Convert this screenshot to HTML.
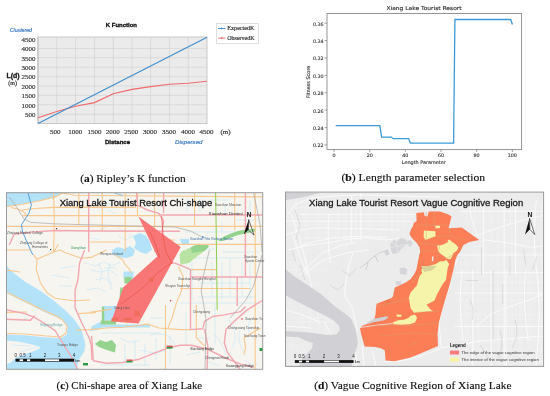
<!DOCTYPE html>
<html><head><meta charset="utf-8">
<style>
html,body{margin:0;padding:0;background:#fff;}
body{width:550px;height:396px;overflow:hidden;position:relative;}
svg{position:absolute;left:0;top:0;display:block;}
.serif{font-family:"Liberation Serif",serif;}
.sans{font-family:"Liberation Sans",sans-serif;}
.dv{font-family:"DejaVu Sans",sans-serif;}
#pa text{stroke:#333;stroke-width:0.18px;}
#pa text.blue{stroke:#3d7cc9;}
#pa text[font-weight="bold"]{stroke-width:0.3px;stroke:#111;}
#pb text{stroke:#333;stroke-width:0.12px;}
</style></head>
<body>
<svg id="main" width="550" height="396" viewBox="0 0 550 396">
<!-- ============ PANEL A ============ -->
<g id="pa">
  <text x="121.4" y="27.2" class="sans" font-size="6" font-weight="bold" text-anchor="middle" textLength="31.2" lengthAdjust="spacingAndGlyphs" fill="#111">K Function</text>
  <text x="9.8" y="31.6" class="sans blue" font-size="5" font-style="italic" textLength="22.2" lengthAdjust="spacingAndGlyphs" fill="#3d7cc9">Clustered</text>
  <rect x="38" y="37" width="169" height="86.5" fill="#ebebeb"/>
  <g stroke="#d2d2d2" stroke-width="0.7">
    <line x1="56.8" y1="37" x2="56.8" y2="123.5"/><line x1="75.6" y1="37" x2="75.6" y2="123.5"/>
    <line x1="94.5" y1="37" x2="94.5" y2="123.5"/><line x1="113.3" y1="37" x2="113.3" y2="123.5"/>
    <line x1="132" y1="37" x2="132" y2="123.5"/><line x1="150.6" y1="37" x2="150.6" y2="123.5"/>
    <line x1="169.5" y1="37" x2="169.5" y2="123.5"/><line x1="188.3" y1="37" x2="188.3" y2="123.5"/>
    <line x1="38" y1="114.3" x2="207" y2="114.3"/><line x1="38" y1="104.8" x2="207" y2="104.8"/>
    <line x1="38" y1="95.4" x2="207" y2="95.4"/><line x1="38" y1="86" x2="207" y2="86"/>
    <line x1="38" y1="76.7" x2="207" y2="76.7"/><line x1="38" y1="67.2" x2="207" y2="67.2"/>
    <line x1="38" y1="57.7" x2="207" y2="57.7"/><line x1="38" y1="48.4" x2="207" y2="48.4"/>
  </g>
  <rect x="38" y="37" width="169" height="86.5" fill="none" stroke="#bdbdbd" stroke-width="0.8"/>
  <line x1="38" y1="37" x2="38" y2="123.5" stroke="#c4c4c4" stroke-width="1.2"/>
  <polyline points="38,117.7 56.8,111.5 75.6,106.2 94.5,102.6 113.3,93.8 132,89.4 150.6,86.6 169.5,84.3 188.3,83.2 207,81.3" fill="none" stroke="#f06a6a" stroke-width="1.15"/>
  <polyline points="38,123.5 207,37.3" fill="none" stroke="#3f8fd0" stroke-width="1.15"/>
  <g class="serif" font-size="7" fill="#333" text-anchor="end">
    <text x="35.4" y="41.8">4500</text><text x="35.4" y="51.2">4000</text><text x="35.4" y="60.6">3500</text>
    <text x="35.4" y="70">3000</text><text x="35.4" y="79.4">2500</text><text x="35.4" y="88.8">2000</text>
    <text x="35.4" y="98.2">1500</text><text x="35.4" y="107.6">1000</text><text x="35.4" y="117">500</text>
  </g>
  <g class="serif" font-size="7" fill="#333" text-anchor="middle">
    <text x="55.3" y="133.8">500</text><text x="75.3" y="133.8">1000</text><text x="94.5" y="133.8">1500</text>
    <text x="112.8" y="133.8">2000</text><text x="131.2" y="133.8">2500</text><text x="150" y="133.8">3000</text>
    <text x="169" y="133.8">3500</text><text x="188" y="133.8">4000</text><text x="206.5" y="133.8">4500</text>
    <text x="225.5" y="133.8">(m)</text>
  </g>
  <text x="13.1" y="78" class="sans" font-size="7" font-weight="bold" text-anchor="middle" fill="#222">L(d)</text>
  <text x="12.6" y="85.2" class="serif" font-size="6" text-anchor="middle" fill="#333">(m)</text>
  <text x="117.5" y="144" class="sans" font-size="5.6" font-weight="bold" text-anchor="middle" textLength="25" lengthAdjust="spacingAndGlyphs" fill="#222">Distance</text>
  <text x="175" y="143.6" class="sans blue" font-size="5.6" font-style="italic" textLength="27.4" lengthAdjust="spacingAndGlyphs" fill="#3d7cc9">Dispersed</text>
  <!-- legend -->
  <rect x="216.4" y="23.3" width="42.1" height="20.3" fill="#fff" stroke="#c8c8c8" stroke-width="0.6"/>
  <line x1="218" y1="28.5" x2="225.5" y2="28.5" stroke="#3f8fd0" stroke-width="0.9"/><circle cx="221.7" cy="28.5" r="0.9" fill="#3f8fd0"/>
  <line x1="218" y1="38.2" x2="225.5" y2="38.2" stroke="#ee6a6a" stroke-width="0.9"/><circle cx="221.7" cy="38.2" r="0.9" fill="#ee6a6a"/>
  <text x="227.3" y="30.4" class="serif" font-size="5.4" textLength="27.2" lengthAdjust="spacingAndGlyphs" fill="#333">ExpectedK</text>
  <text x="227.3" y="40.1" class="serif" font-size="5.4" textLength="27.2" lengthAdjust="spacingAndGlyphs" fill="#333">ObservedK</text>
</g>

<!-- ============ PANEL B ============ -->
<g id="pb">
  <text x="424" y="10.2" class="dv" font-size="5.4" text-anchor="middle" textLength="75.2" lengthAdjust="spacingAndGlyphs" fill="#222">Xiang Lake Tourist Resort</text>
  <rect x="327" y="13.5" width="194.6" height="136.1" fill="#fff" stroke="#8a8a8a" stroke-width="0.9"/>
  <g stroke="#666" stroke-width="0.6">
    <line x1="324.5" y1="23.2" x2="327" y2="23.2"/><line x1="324.5" y1="40.6" x2="327" y2="40.6"/>
    <line x1="324.5" y1="58" x2="327" y2="58"/><line x1="324.5" y1="75.4" x2="327" y2="75.4"/>
    <line x1="324.5" y1="92.8" x2="327" y2="92.8"/><line x1="324.5" y1="110.2" x2="327" y2="110.2"/>
    <line x1="324.5" y1="127.6" x2="327" y2="127.6"/><line x1="324.5" y1="145" x2="327" y2="145"/>
    <line x1="334" y1="149.6" x2="334" y2="152"/><line x1="369.7" y1="149.6" x2="369.7" y2="152"/>
    <line x1="405.3" y1="149.6" x2="405.3" y2="152"/><line x1="441" y1="149.6" x2="441" y2="152"/>
    <line x1="476.6" y1="149.6" x2="476.6" y2="152"/><line x1="512.3" y1="149.6" x2="512.3" y2="152"/>
  </g>
  <g class="dv" font-size="4.8" fill="#333" text-anchor="end">
    <text x="323.6" y="25.6">0.36</text><text x="323.6" y="43">0.34</text><text x="323.6" y="60.4">0.32</text>
    <text x="323.6" y="77.8">0.30</text><text x="323.6" y="95.2">0.28</text><text x="323.6" y="112.6">0.26</text>
    <text x="323.6" y="130">0.24</text><text x="323.6" y="147.4">0.22</text>
  </g>
  <g class="dv" font-size="4.8" fill="#333" text-anchor="middle">
    <text x="334" y="156.8">0</text><text x="369.7" y="156.8">20</text><text x="405.3" y="156.8">40</text>
    <text x="441" y="156.8">60</text><text x="476.6" y="156.8">80</text><text x="512.3" y="156.8">100</text>
  </g>
  <text x="423.8" y="163.6" class="dv" font-size="4.8" text-anchor="middle" textLength="44" lengthAdjust="spacingAndGlyphs" fill="#333">Length Parameter</text>
  <text transform="translate(310.1,82) rotate(-90)" class="dv" font-size="4.8" text-anchor="middle" textLength="32.3" lengthAdjust="spacingAndGlyphs" fill="#333">Fitness Score</text>
  <polyline points="335.7,125.7 379.9,125.7 381.6,137.1 391.4,137.1 393,138.6 408.6,138.6 410.5,143.2 453.6,143.2 454.9,19.5 510.7,19.5 512.4,24.5" fill="none" stroke="#3b9ad6" stroke-width="1.3" stroke-linejoin="round"/>
</g>

<!-- ============ CAPTIONS ============ -->
<g class="serif" fill="#111" font-size="10" stroke="#111" stroke-width="0.12">
  <text x="80.2" y="182.3" textLength="105.6" lengthAdjust="spacingAndGlyphs">(<tspan font-weight="bold">a</tspan>) Ripley’s K function</text>
  <text x="341.5" y="181.3" textLength="143.7" lengthAdjust="spacingAndGlyphs">(<tspan font-weight="bold">b</tspan>) Length parameter selection</text>
  <text x="56.5" y="388.7" textLength="145.7" lengthAdjust="spacingAndGlyphs">(<tspan font-weight="bold">c</tspan>) Chi-shape area of Xiang Lake</text>
  <text x="314.2" y="389.3" textLength="197.4" lengthAdjust="spacingAndGlyphs">(<tspan font-weight="bold">d</tspan>) Vague Cognitive Region of Xiang Lake</text>
</g>

<!-- ============ MAP C ============ -->
<g id="mc">
  <clipPath id="clipc"><rect x="6.5" y="192.7" width="256.2" height="176.6"/></clipPath>
  <rect x="6.5" y="192.7" width="256.2" height="176.6" fill="#f6f5f0"/>
  <g clip-path="url(#clipc)">
    <!-- water bodies -->
    <g fill="#b4e3f9">
      <path d="M6,192 L62.5,192 L62.5,193 L55.1,196.9 L38.7,201 L22.4,204.3 L6,206.7 Z"/>
      <path d="M6,264 L9.8,270 L24.9,281.4 L40.1,290.8 L53.3,300.3 L64.7,309.8 L74.2,319.2 L81.8,330.6 L85.5,345 L84,352 L78.2,360.8 L76.6,371 L6,371 L6,364 L10.7,362.8 L15.5,358.1 L23.7,354.6 L34.4,351 L40.3,348 L39.1,346.3 L29.6,343.9 L17.8,341.5 L6,340.4 L6,334.4 L24.9,335.3 L43.9,337.2 L60.9,338.2 L66.6,334.4 L67.6,326.8 L62.8,320.2 L55.2,316.4 L43.9,311.7 L30.6,305 L17.4,298.4 L6,292.7 Z"/>
            <path d="M103.5,306 L116.8,306 L111.8,320.5 L103.5,320.5 Z"/>
      <path d="M123.4,271.5 L133.5,271.5 L133.5,278.7 L123.4,278.7 Z"/><path d="M95,324.5 H150 V327.5 H95 Z"/>
      <path d="M112,250 L118,247 L124,249 L130,246 L135,250 L133,256 L126,258 L119,257 L113,255 Z"/>
      <path d="M133,236 L140,233 L146,236 L150,242 L152,250 L146,254 L140,252 L134,248 L136,243 Z"/>
      <path d="M92,326 L100,322 L104,326 L98,330 L90,331 Z"/>
    </g>
    <!-- canals -->
    <g fill="none" stroke="#c4e5f6" stroke-width="0.6">
      <path d="M84,262 L95,266 L104,262 L112,266 L120,262 M90,270 L100,272 L110,270 L118,276 M95,280 L105,278 L112,284 M86,290 L98,288 L106,292"/>
      <path d="M98,262 L102,272 L100,282 M110,262 L108,275 L112,290 M104,268 L116,268 M60,268 L75,266 M52,275 L70,278 M58,286 L72,286"/>
      <path d="M96,200 L104,206 L112,204 M108,210 L116,214 M92,238 L100,240 M128,234 L134,238 M118,228 L124,232"/>
      <path d="M185,232 H242 M186,249 H215 M222,252 H258 M186,258 H250 M192,262 V300 M200,283 H250 M198,297 H255 M212,262 V296 M222,262 V300 M230,258 V296 M242,262 V296 M250,262 V300"/>
      <path d="M180,303 H260 M186,312 V345 M215,303 V345 M228,318 Q240,335 232,348 M250,320 Q245,330 255,340 M240,330 Q236,340 244,352 M196,338 H210 M214,334 Q222,342 226,355"/>
      <path d="M100,333 H160 M120,338 Q130,345 140,340 M140,350 Q155,355 165,350 M100,365 H150 M150,335 Q170,330 175,345 M125,345 V365 M135,340 V360 M145,344 V366 M156,338 V360 M170,335 V365"/>
      <path d="M205,355 Q215,360 225,356 M245,360 Q250,366 258,364 M186,355 L200,352 M208,362 L220,366"/>
      <path d="M150,318 H165 M118,236 L126,240 L132,236 M100,230 L108,226"/>
      <path d="M200,198 V212 M210,200 H230 M225,204 V214 M236,220 H258 M222,222 V232 M250,200 V214 M187,198 V212"/>
      <path d="M20,352 L40,346 M12,345 L30,346"/>
    </g>
    <!-- green -->
    <g fill="#94d38e">
      <path d="M179.5,254.4 L180.4,264.7 L189,263 L197.6,256.1 L204.5,250.9 L208.9,246.6 L207.1,244.3 L195.9,244.9 L190.7,247.5 L185.5,250 L182.1,250.9 L180.4,253.5 Z" fill="#b9e3a3"/>
      <path d="M190.7,247.5 L195.9,244.9 L207.1,244.3 L208.9,246.6 L204.5,250.9 L198,252 L192,253 Z"/>
      <path d="M218,241 L224,236.5 L231,233.5 L238,231 L246,229.5 L255.5,228.6 L255.2,231.5 L246,233.5 L238,235 L230,238 L224,240.8 Z"/>
      <path d="M124.4,277.5 L128,276.5 L131.9,277.5 L131.5,283.4 L124.4,283.4 Z"/>
      <path d="M120.3,287.6 L122.7,287.6 L122,297.5 L119.5,297.5 Z"/>
      <path d="M101.8,306.6 L104.3,306.6 L104.3,321 L101.8,321 Z"/>
      <path d="M100.7,320.5 L116,320.5 L116,324.5 L100.7,324.5 Z"/>
      <path d="M95,344 L100,340 L106,342 L112,340 L116,345 L115,352.6 L110,351 L104,349 L99,347 Z"/>
    </g>
    <path d="M180,239 L189,238.8 L189,244 L182,244.5 Z" fill="#b4e3f9"/>
    <!-- orange roads -->
    <g fill="none" stroke="#f8c88e" stroke-width="1.1" stroke-linejoin="round">
      <path d="M6,206.7 L22.4,204.3 L38.7,201 L55.1,196.9 L62.5,193 L74.7,195.3 L263,196.9"/>
      <path d="M6,226.4 H263"/>
      <path d="M53.5,193 Q55,220 53.5,252 L58.4,244.4"/>
      <path d="M78.8,193 V225"/><path d="M102.3,193 V230"/><path d="M125.2,193 V252"/><path d="M137.5,193 V215"/><path d="M154.6,193 V252"/>
      <path d="M194.6,193 V226"/><path d="M234.7,193 V230"/><path d="M255.2,193 V370"/>
      <path d="M22.5,215.6 H160 M53.3,207.4 H136"/>
      <path d="M10.9,207.5 L18,209 L22.5,211 L27.3,215.6 M22.5,209.7 L35,208.5 L53.3,207.4"/>
      <path d="M33.8,254.9 L37.1,259.8 L36.3,269.6 L40.4,282.7 L46.9,292.6 L55.1,298.3 L73.1,300.7 L90,300"/>
      <path d="M37.1,259 L55.1,251.6 L60,250 L64.9,252.5 L81.3,258.2 L91.1,257.4 L106.4,250"/>
            <path d="M6,333.5 L24.9,334 L43.9,335.8 L60.9,337 L66,333 L67,326 L62,319.5 L55,315.5 L43.9,310.5 L30.6,304 L17.4,297.4 L6,292 M78,313.6 L96,312.6"/>
      <path d="M6,312.4 L27,312 M90,312.4 L106.4,309.9 L112,309"/>
      <path d="M114.5,254.9 L122.7,259.8 L125.2,264.7 L129.3,268.8 L130.9,272.9"/>
      <path d="M76,330 L90,329.6 L106.4,328 L122.8,327.2 L139.3,325.5 L147.5,323.9 L159,328 L180,329.6 L189.8,329.6"/>
      <path d="M190.5,269.6 H217 M180,288.5 H250"/>
      <path d="M178.3,266.4 L183.2,276.2 L181.5,290.9 L176.6,302.4 L172,318 L168,328"/>
      <path d="M165.5,305 V370"/>
      <path d="M196.3,305 V337.8 L204.6,346"/>
      <path d="M260.4,328 L244,337.8 L245.6,347.7 L244,354.3"/>
      <path d="M175,244.4 H263"/>
      <path d="M6,250 H30 M6,270 L20,272"/>
      <path d="M90,242 H120 M160,240 L175,240"/>
    </g>
    <!-- pink roads -->
    <g fill="none" stroke="#f3a7b0" stroke-width="1.4" stroke-linejoin="round">
      <path d="M9.3,245 L14.2,234 L30.5,232.1 L55.1,230.5 L96,231 L180,231.3"/>
      <path d="M136.6,193 L137.5,205.1 L147.3,210 L158.7,213.3 L163.6,220.6 L162,232.9 L162.8,252 L166,262 L175,263.1 L183.2,266.4 L190.5,269.6 V330"/>
      <path d="M163.6,193 V213"/>
      <path d="M160,215 H263"/>
      <path d="M190.5,277 H263"/>
      <path d="M245.4,193 V277"/><path d="M237.2,277 V306"/>
      <path d="M84.6,250 L79.6,263.1 L78,279.5 L75.1,290 L75.1,307.9 L81.8,323 L89.3,338.2 L91.2,345 L92,360"/>
      <path d="M88.7,193 V252"/>
      <path d="M6,309.8 L24.9,313.6 L34.4,317.3 L43.9,323 L55.2,330.6 L60.9,340 L71.7,357.5 L78,370 M6,319.2 L30.6,320.2 L34.4,315.5"/>
      <path d="M91.6,336 L93.3,360.8 L106.4,363.3 L122.8,362.5 L139.3,359.2 L155.7,352.6 L168.8,347.7 L180,345.2 L191.4,345.2 L207.8,349.3 L224.3,357.5 L240.7,364.1 L253.8,367.4"/>
      <path d="M189.8,329.6 L202.9,328.8 L204.6,321.4 L212.8,316.5 L224.3,314.9 L240.7,311.6 L245.6,306.6"/>
      <path d="M263,300 L247.2,309.9 L234.1,321.4 L225.9,329.6 L224.3,342.8 L227.5,352.6 L232.5,359.2 L240.7,370"/>
      <path d="M204.6,329 L207.8,346 L207,370"/>
    </g>
    <!-- blue canal line, rails, metro -->
    <path d="M28.1,193 L31.4,205.1 L28.9,213.3 L21.5,224.7 L22.4,231.3 L27.3,242.7 L31.4,252 L33,255" fill="none" stroke="#4c97dc" stroke-width="0.9"/>
    <path d="M114.5,193 L122.7,195.3" fill="none" stroke="#7cc0ec" stroke-width="0.9"/>
    <g fill="none" stroke="#a8a8a8" stroke-width="0.7">
      <path d="M9.3,196.9 L17.5,208.4 L24,219 L30.5,222.3 L55.1,223.9 L175,227 L191.4,231.3 L202,237"/>
      <path d="M253.6,193 L260.1,224.7 L262,252"/>
      <path d="M209.4,250 L203.6,274.5 L201.2,290.9 L203.6,304 L206.1,320 L205,370"/>
      <path d="M262,255 L253.6,286 L245.4,300.7 L230,318"/>
    </g>
    <path d="M215.6,192 L216.2,230 L217.2,310" fill="none" stroke="#8ccf4c" stroke-width="1"/>
    <!-- red polygon -->
    <path d="M138.4,216.4 L180.7,247.1 L138.5,323.6 L111.2,321.6 L123.3,287.3 L157.3,256.4 Z" fill="#f87070" fill-opacity="0.96"/>
    <g fill="none" stroke="#ec5a52" stroke-width="1" opacity="0.85">
      <path d="M161.7,216.4 L163,234.9 L165.6,250.7 L172.2,263.9"/>
      <path d="M172.8,262 L158.7,272 L150.6,280.2 L144.5,286.3 L134.4,294.3 L124.3,301.4 L120.3,304.4"/>
      <path d="M150,232 L156,246 L160,258"/>
    </g>
    <g fill="#ee6a55" opacity="0.8">
      <path d="M148.6,278 L154.6,277.2 L153,282.2 L149,282 Z"/>
      <path d="M135,310.5 L139,311 L140.5,316.6 L134.4,316 Z"/>
      <path d="M111.8,318 L118.3,317.6 L118,320.6 L111.2,320.6 Z"/>
      <path d="M123.3,318 L132.4,317.6 L132,320.6 L123.6,320.6 Z"/>
    </g>
  </g>
  <rect x="6.5" y="192.7" width="256.2" height="176.6" fill="none" stroke="#9a9a9a" stroke-width="1"/>
  <!-- title -->
  <text x="59.7" y="206.3" class="sans" font-size="9.2" fill="#151515" stroke="#151515" stroke-width="0.3" textLength="152.6" lengthAdjust="spacingAndGlyphs">Xiang Lake Tourist Resort Chi-shape</text>
  <!-- labels -->
  <g class="sans" font-size="3.2" fill="#555">
    <text x="208.6" y="214.6" textLength="34.3" lengthAdjust="spacingAndGlyphs" fill="#222">Xiaoshan District</text>
    <text x="7" y="233.5">Zhejiang Medical College</text>
    <text x="20" y="243.5">Zhejiang College of</text>
    <text x="32" y="247.5">Humanities</text>
    <text x="71" y="248.5" fill="#2c9a5a">Xiangshan</text>
    <text x="100" y="254.5">Wenyuan Island</text>
    <text x="190" y="239.5" fill="#3b6fa8">Xiaoshan Yihe Railway Station</text>
    <text x="178" y="279.5">Xiaoshan Kangde Hospital</text>
    <text x="193" y="312.5">Chengxiang</text>
    <text x="165" y="287">Shuyan Township</text>
    <text x="114" y="309">Xiang Lake</text>
    <text x="40" y="326" fill="#6aa">Shipping Bridge</text>
    <text x="57" y="346">Yuanpu Bridge</text>
    <text x="190.6" y="349.6" fill="#333">Baichang Bridge</text>
    <text x="205" y="359">Chengnan Huadi</text>
    <text x="225.9" y="366.5" fill="#333">Kouangjiang Bridge</text>
    <text x="245" y="320">Xiaoshan Yu</text>
    <text x="228" y="328.5">Chengxiang Township</text>
    <text x="244" y="337">Suichang Town</text>
    <text x="244" y="258">Xiaoshan</text>
    <text x="245" y="262">Sports Center</text>
    <text x="215" y="206">Xiaoshan Mansion</text>
  </g>
  <!-- poi -->
  <circle cx="170.6" cy="300.8" r="0.8" fill="#e03030"/><circle cx="242" cy="319" r="0.8" fill="#e03030"/>
  <rect x="56" y="228" width="1.2" height="1.2" fill="#444"/><rect x="50" y="249" width="1.2" height="1.2" fill="#444"/><rect x="202" y="236.3" width="1.6" height="1.6" fill="#4a7fc0"/>
  <!-- highway shields -->
  <g>
    <rect x="126.5" y="359.5" width="6" height="1.4" fill="#e05050"/><rect x="126.5" y="360.9" width="6" height="1.6" fill="#2e9a4a"/>
    <rect x="166.6" y="345.6" width="6" height="1.4" fill="#e05050"/><rect x="166.6" y="347" width="6" height="1.6" fill="#2e9a4a"/>
    <rect x="83" y="363" width="5" height="2.4" fill="#2e9a4a"/>
    <rect x="259.5" y="348" width="3" height="3" fill="#2e9a4a"/>
  </g>
  <!-- north arrow -->
  <text x="249" y="217" class="sans" font-size="6.3" font-weight="bold" text-anchor="middle" fill="#111">N</text>
  <path d="M248.7,219.6 L243.8,234.6 L248.3,229.8 Z" fill="#111"/>
  <path d="M248.7,219.6 L254,235.1 L248.3,229.8 Z" fill="#fff" fill-opacity="0.3" stroke="#111" stroke-width="0.6"/>
  <!-- scale bar -->
  <g class="sans" font-size="4.5" fill="#222" text-anchor="middle">
    <text x="15.7" y="356.9">0</text><text x="22.6" y="356.9">0.5</text><text x="30.3" y="356.9">1</text>
    <text x="44.9" y="356.9">2</text><text x="59.2" y="356.9">3</text><text x="73.9" y="356.9">4</text>
  </g>
  <text x="75" y="361.6" class="sans" font-size="4" fill="#222">km</text>
  <rect x="15.5" y="358.7" width="58.7" height="3" fill="#111"/>
  <rect x="19.6" y="359.3" width="3.5" height="1.8" fill="#fff"/>
  <rect x="27" y="359.3" width="3.2" height="1.8" fill="#fff"/>
  <rect x="45" y="359.3" width="14.1" height="1.8" fill="#fff"/>
</g>

<!-- ============ MAP D ============ -->
<g id="md">
  <clipPath id="clipd"><rect x="285.5" y="192.1" width="258.1" height="174.3"/></clipPath>
  <rect x="285.5" y="192.1" width="258.1" height="174.3" fill="#ececec"/>
  <g clip-path="url(#clipd)">
    <!-- roads -->
    <path d="M296 200 V240 M302 200 V240 M308 200 V240 M314 200 V240 M320 200 V240 M326 200 V245 M332 200 V245 M338 200 V245 M344 200 V245 M350 200 V245 M356 200 V245 M362 200 V245 M368 200 V245 M374 200 V245 M380 200 V245 M386 200 V245 M392 200 V245 M398 200 V245 M404 200 V245 M410 200 V245 M292 203 H410 M292 208 H410 M292 213 H410 M292 218 H410 M292 223 H410 M292 228 H410 M300 233 H385 M300 238 H385 M300 243 H385" fill="none" stroke="#f3f3f3" stroke-width="0.5"/>
    <path d="M462 200 V366 M468 200 V366 M474 200 V366 M480 200 V366 M486 200 V366 M492 200 V366 M498 200 V366 M504 200 V366 M510 200 V366 M516 200 V366 M522 200 V366 M528 200 V366 M534 200 V366 M540 200 V366 M470 205 H545 M470 211 H545 M470 217 H545 M470 223 H545 M470 229 H545 M470 235 H545 M470 241 H545 M470 247 H545 M470 253 H545 M470 259 H545 M458 265 H545 M458 271 H545 M458 277 H545 M458 283 H545 M458 289 H545 M458 295 H545 M458 301 H545 M458 307 H545 M458 313 H545 M458 319 H545 M458 325 H545 M458 331 H545 M458 337 H545 M458 343 H545 M458 349 H545 M458 355 H545 M458 361 H545" fill="none" stroke="#f2f2f2" stroke-width="0.45"/>
    <g fill="none" stroke="#f5f5f5" stroke-width="0.6">
      <path d="M286 207 H420 M286 225 H420 M300 238 H380 M286 262 H340 M286 270 H330 M286 284 H320 M286 318 H330 M286 322 H335 M286 346 H300"/>
      <path d="M296 200 V300 M306 198 V300 M318 198 V240 M338 198 V250 M346 198 V250 M356 198 V240 M370 198 V240 M382 200 V236 M392 200 V232 M404 200 V228 M412 200 V226"/>
      <path d="M302 305 V332 M310 308 V334 M318 312 V334 M326 316 V334 M292 340 V360 M304 342 V360"/>
      <path d="M460 262 H545 M460 282 H545 M455 300 H545 M450 315 H545 M445 340 H545 M448 352 H545 M470 220 H545 M465 235 H480"/>
      <path d="M466 250 V366 M478 250 V366 M498 230 V366 M512 230 V366 M520 260 V366 M530 260 V366 M542 200 V366 M490 200 V240 M475 200 V225 M466 200 V222 M510 200 V225"/>
    </g>
    <g fill="none" stroke="#fafafa" stroke-width="1" stroke-linecap="round" stroke-linejoin="round">
      <path d="M287.5,214.7 L295.1,204.6 L310.3,198.3 L335.5,195.8 L360,195 L440,197"/>
      <path d="M290,250.1 L310.3,242.5 L335.5,237.5 L360.8,236.2 L386,237.5"/>
      <path d="M305.2,272.8 L322.9,260.2 L348.1,252.6 L368.3,250.1"/>
      <path d="M292.6,234.9 L300.2,257.7 L307.7,275.3"/>
      <path d="M300 214.4 H420 M460 211.4 H545"/>
      <path d="M286 221.2 H410"/>
      <path d="M286,234.8 L300.2,230.3 L315.3,228 L330.5,228 L345.6,228.8 L365,228.8 L400,230"/>
      <path d="M288,250 L307.7,245.5 L330.5,242.4 L345.6,239.4 L365,237.9 L386,240 L400,238"/>
      <path d="M300,275 L312,262 L322.9,252.6 L340,246 L355.7,242.5"/>
      <path d="M328.9 214 Q327 240 330 262"/><path d="M351.7 196 V242"/><path d="M360.8 193 V240"/>
      <path d="M291,213.6 L294,222.7 L300,240 L306,262 L312,288"/>
      <path d="M353.2,252.6 Q346,270 344.5,295.1 L352.6,308.6 L356.6,327.6 L355.8,349.2 L356.6,367"/>
      <path d="M323.9,322 L334.1,338.9 L344.2,350.8 L354.4,355.8"/>
      <path d="M286,310 L300,314 L320,322 M286,326 L310,328"/>
      <path d="M477.7,235 L502.3,226.5 L527,219 L545,215.2"/>
      <path d="M483.4,239.8 L511.8,243.6 L530.8,247.3 L545,245.5"/>
      <path d="M483.4 200 V275 M504.2 200 V366 M515.6 200 V275 M536.4 200 Q532 240 537 275 T536 366"/>
      <path d="M455 255 H545"/>
      <path d="M455 272.7 H545 M455 293 H545 M455 326.5 H545"/>
      <path d="M462 270 Q458 300 463 340 M472.7 270 V366 M491.2 270 V366 M506.2 270 V366 M525.7 270 Q522 300 528 340"/>
      <path d="M476.2,326.5 L490.3,314.2 L508,307.1 L529.2,300 L545,293"/>
      <path d="M458.3,258.8 L453,267.7 L449.5,285.4 L444.2,303 L440.7,315.4 L438.9,322.6 L440,334 L441,348 L452,346 L480,341 L545,336"/>
      <path d="M385,362 L400,361 L420,356 L440,349"/>
      <path d="M362,346 L364,366 M372,350 L376,366"/>
      <path d="M470,200 Q468 215 478 236"/>
    </g>
    <g fill="none" stroke="#cfcfd4" stroke-width="0.6">
      <path d="M493 270 V340 M502.7 284 V303.6 M465.6 280.6 H478 M481.5 247.3 V275 M510 256.8 V275 M523.2 249.2 L526 265 M536.4 256.8 L533 270"/>
      <path d="M470 300 Q475 310 472 320 M515 320 Q520 335 512 348 M480 345 L490 360 M500 330 Q505 345 498 360"/>
      <path d="M295 210 L300 225 L296 240 M292 250 L296 262 M300 265 L305 280"/>
      <path d="M342 270 L350 276 L356 268 M330 285 L338 290 L344 284"/>
    </g>
    <!-- water -->
    <g fill="#d0d0d5">
      <path d="M286,193 L320.4,193 L302.7,197.3 L286,200 Z"/>
      <path d="M286,269.4 L294.1,276.2 L303.2,282.3 L312.3,288.3 L321.4,294.4 L333.6,305.3 L340.6,310.8 L345,313.6 L351,318.6 L356.1,330.5 L357.8,342.3 L356.1,350.8 L352.7,357.5 L351.8,367 L298.5,367 L301.9,358.4 L307,354.1 L312.1,348.2 L312.9,343.1 L305.3,340.6 L298.9,337.2 L286,336.5 L286,331 L298.9,331.7 L312.8,333.1 L326.7,335.1 L336.4,334.4 L339.9,330.3 L339.2,326.1 L333.6,320.6 L323.9,315 L312.8,309.4 L298.9,302.5 L286,295.6 Z"/>
            <g fill="#d6d6da">
      <path d="M390,244 L394,240 L398,241 L400,238 L405,239 L408,242 L405,246 L401,249 L398,253 L393,254 L391,250 Z"/>
      <path d="M405,243 L410,240 L413,243 L410,247 Z"/>
      <path d="M399.5,268 L405,267.5 L407.3,270 L406,274.9 L400,274 Z"/>
      <path d="M395.9,281.1 L401.6,281.5 L401,285.7 L396,285 Z"/>
      <path d="M384,252 L388,250 L390,254 L386,256 Z"/>
      </g>
      <path d="M392,243 L406,250 M396,238 L398,255 M388,248 L410,244" fill="none" stroke="#ececec" stroke-width="0.6"/>
      <path d="M388,250 Q378,252 372,258 T360,268 M375,255 L378,262 M368,262 L366,270" fill="none" stroke="#d0d0d4" stroke-width="1"/>
    </g>
    <!-- orange polygon -->
    <path fill="#fb7e57" d="M416.3,213 L423.9,212.3 L424.6,215.9 L427.5,216.6 L428.3,213 L429,211.5 L439.9,211.5 L448.6,214.5 L451.5,216.6 L448.6,228.3 L461.7,227.5 L479.2,239.9 L469.4,242.1 L463.4,245.1 L460.4,251.2 L457.3,255.2 L455.3,260.3 L453.8,268 L449.5,285.4 L444.2,303 L440.7,315.4 L438.9,322.6 L437.5,334 L438,346 L418,354.5 L410,357.8 L394.2,361.2 L385.5,360.5 L384.8,350.5 L381.5,348.5 L375.4,347.1 L364.7,346.5 L361.4,335.1 L360,328.4 L361.8,325.9 L366.4,324.2 L372,322.5 L374.3,319.1 L375.5,314.5 L376,307.7 L376.6,303.8 L391.4,298.1 L393,296.5 L393.6,292.5 L394.8,287.4 L400.5,285.1 L406.1,282.3 L410.7,278.9 L414.1,274.3 L416.4,269.8 L417.5,264.1 L419.2,255 L420.2,252.1 L419.5,247.2 L416.6,242.8 L412.3,238.5 L409.4,234.1 L410.8,229.7 L413,226.1 L413.7,223.2 L416.6,221 Z"/>
    <g fill="#f6f4aa">
      <path d="M423.9,230.5 L435.5,231.2 L435.5,236.3 L425.4,239.9 L423.6,237 Z"/>
      <path d="M435.5,225.4 L439.9,225.4 L439.9,228.3 L435.5,228.3 Z"/>
      <path d="M437.1,245.6 L442.2,245.1 L448.2,242.1 L447.7,240.6 L449.2,239.6 L452.3,242.1 L455.3,244.1 L458.3,247.2 L457.3,250.2 L453.3,253.2 L452.3,256.2 L450.3,259.3 L447.2,258.8 L444.2,256.2 L441.2,254.2 L438.1,251.2 Z"/>
      <path d="M446.2,259.8 L449.2,264.3 L447.7,267.7 L446,280 L442.4,284.5 L437.1,294.2 L434.5,300.4 L426.5,304.8 L431,310.1 L433.6,311 L414.1,312.8 L410.6,308.3 L408.8,297.7 L410.6,292.4 L416.8,285.4 L419.4,276.5 L422.1,273 L421.2,269.4 L425,267.4 L428,266.3 L435.1,264.3 L440.2,261.3 L444.2,261.3 Z"/>
      <path d="M392.5,322.5 L398.2,320.2 L403.9,319.7 L408.4,318 L410.7,315.7 L415,314.5 L417,318 L415,322.5 L409.5,324.2 L400.5,324.8 L393.6,324.2 Z"/>
      <path d="M396.5,314.5 L401.6,314.8 L401.2,316.8 L396.8,316.8 Z"/>
    </g>
    <path d="M421.2,266 L437,265.9 L432,270.5 L424,272 Z" fill="#d8d49a"/>
    <path d="M359,327.6 L377.7,325 L392.5,323.6" fill="none" stroke="#ececec" stroke-width="0.8"/>
    <path d="M361.8,325.6 L366.4,323.6 L373.2,319.1 L380,317.4 L386.8,316.3 L388.5,317.6 L384.5,320.2 L377.7,321.4 L372,322.5 L366.4,324.2 Z" fill="#d0d0d5"/>
    <path d="M432.1,256.5 L433.6,256.2 L433.2,261.3 L431.8,261 Z" fill="#ececec"/>
    <!-- internal boundaries -->
    <g fill="none" stroke="#d9a070" stroke-width="0.45">
      <path d="M426.2,212 V245 M434.3,211 V230.5 M416,225.2 H448.6 M436,236.3 L449,236 L466,240 M418,243 L437,245"/>
      <path d="M448.6,228.3 L452,236 M440,245 L437,258 L428,266 M455,254 L445,259"/>
      <path d="M376.5,306 L392,303 L409,298 M372,326 L392,325 L409,325.5 L438,323 M380,336 L410,333 L437.5,334 M415,312.5 L440,311"/>
      <path d="M420,274 L412,282 M419.5,250 L436,252"/>
      <path d="M395,340 L400,344 M409,345 L418,342"/>
    </g>
  </g>
  <rect x="285.5" y="192.1" width="258.1" height="174.3" fill="none" stroke="#9a9a9a" stroke-width="1"/>
  <!-- title -->
  <text x="309.1" y="205.8" class="sans" font-size="9.8" fill="#1a1a1a" stroke="#1a1a1a" stroke-width="0.3" textLength="214.1" lengthAdjust="spacingAndGlyphs">Xiang Lake Tourist Resort Vague Cognitive Region</text>
  <!-- north arrow -->
  <text x="529.9" y="216.6" class="sans" font-size="6.6" font-weight="bold" text-anchor="middle" fill="#111">N</text>
  <path d="M529.5,218.3 L525,234.6 L529.9,229.3 Z" fill="#111"/>
  <path d="M529.5,218.3 L534.8,234.6 L529.9,229.3 Z" fill="#fff" stroke="#111" stroke-width="0.6"/>
  <!-- scale bar -->
  <g class="sans" font-size="4.5" fill="#222" text-anchor="middle">
    <text x="295" y="357.9">0</text><text x="301.6" y="357.9">0.5</text><text x="309.3" y="357.9">1</text>
    <text x="324.1" y="357.9">2</text><text x="338.6" y="357.9">3</text><text x="353.4" y="357.9">4</text>
  </g>
  <text x="354.8" y="362.8" class="sans" font-size="4" fill="#222">km</text>
  <rect x="294.8" y="360.1" width="58.8" height="2.8" fill="#111"/>
  <rect x="298.9" y="360.6" width="3.2" height="1.8" fill="#fff"/>
  <rect x="305.9" y="360.6" width="3.2" height="1.8" fill="#fff"/>
  <rect x="324.1" y="360.6" width="14.9" height="1.8" fill="#fff"/>
  <!-- legend -->
  <text x="449.9" y="346.8" class="sans" font-size="4.8" font-weight="bold" fill="#111" textLength="15.9" lengthAdjust="spacingAndGlyphs">Legend</text>
  <rect x="449.9" y="350.6" width="9.2" height="3.9" fill="#f77b7b"/>
  <rect x="449.9" y="357.5" width="9.2" height="4.2" fill="#f8f3a3"/>
  <text x="461.4" y="354.2" class="sans" font-size="3.9" fill="#333" textLength="73.1" lengthAdjust="spacingAndGlyphs">The edge of the vague cognitive region</text>
  <text x="461.4" y="360.9" class="sans" font-size="3.9" fill="#333" textLength="77.5" lengthAdjust="spacingAndGlyphs">The interior of the vague cognitive region</text>
</g>
</svg>
</body></html>
